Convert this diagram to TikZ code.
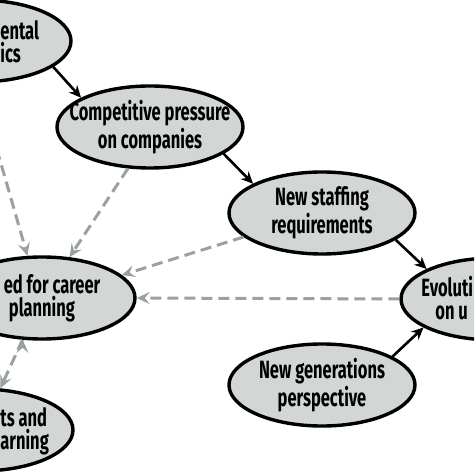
\documentclass[tikz,border=0pt]{standalone}
\usepackage{fontspec}
\setmainfont{Fira Sans}[FakeStretch=0.66]
\usetikzlibrary{arrows.meta,positioning,shapes.geometric}
\definecolor{ovalfill}{RGB}{210,215,214}
\definecolor{dashgrey}{RGB}{154,162,159}

\begin{document}
\begin{tikzpicture}[x=0.5pt, y=-0.5pt, node distance=43pt and 86pt, on grid,
		factor/.style={ellipse, draw=black, line width=1.7pt, fill=ovalfill, minimum width=93pt, minimum height=41pt, inner xsep=-12pt, inner ysep=-3pt, align=center, font=\bfseries\fontsize{12.5}{11.6}\selectfont},
		cuttext/.style={anchor=west, inner sep=0pt, align=left, font=\bfseries\fontsize{12.5}{11.6}\selectfont},
		push/.style={-{Stealth[length=6pt, width=5.5pt]}, line width=1.3pt},
		hint/.style={-{Stealth[length=6.5pt, width=6pt, inset=2.5pt]}, draw=dashgrey, line width=1.5pt, dash pattern=on 5.5pt off 3pt}]
				\useasboundingbox (0,0) rectangle (474,474);
				\clip (0,0) rectangle (474,474);
				
				\node[factor] (n_1) at (-22,41) {};
				\node[factor] (n_2) [below right=of n_1] {Competitive pressure\\on companies};
				\node[factor] (n_3) [below right=of n_2] {New staffing\\requirements};
				\node[factor] (n_4) [below right=of n_3] {};
				\node[factor] (n_5) [below left=85.5pt and 54pt of n_2] {\hphantom{Ne}ed for career\\planning};
				\node[factor] (n_6) [below left=66pt and 31pt of n_5] {};
				\node[factor] (n_7) [below=86pt of n_3] {New generations\\perspective};
				
				% words of the ovals that run off the edge
				\node[cuttext] (t_1) at (0,42) {ental\\ics};
				\node[cuttext] (t_4) at (421,298) {Evoluti\\\hspace*{7pt}on u};
				\node[cuttext] (t_6) at (0,431) {ts and\\arning};
				
				\path[push]
				(n_1.-19) edge (n_2.157)
				(n_2.-20) edge (n_3.157)
				(n_3.-20) edge (n_4.156)
				(n_7.22) edge (n_4.-158)
				;
				\path[hint]
				(n_1.south) edge (n_5.109)
				(n_2.242) edge (n_5.56)
				(n_3.197) edge (n_5.16)
				(n_4.west) edge (n_5.east)
				(n_5.245) edge (n_6.64)
				;
			\end{tikzpicture}
\end{document}
